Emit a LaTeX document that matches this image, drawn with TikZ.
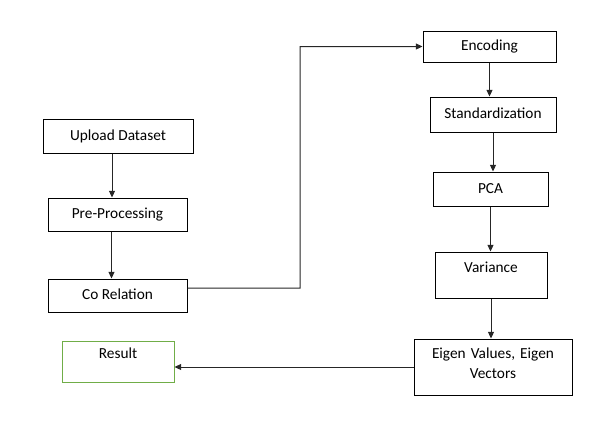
\documentclass[tikz,border=0pt]{standalone}
\usepackage{fontspec}
\setmainfont{Carlito}
\usepackage{xcolor}
\usetikzlibrary{arrows.meta,positioning,calc}

\definecolor{resgreen}{HTML}{70AD47}

\begin{document}
\begin{tikzpicture}[>={Triangle[length=5pt,width=4.5pt]}, x=0.75pt, y=-0.75pt,
    box/.style={draw=black, line width=0.75pt, inner sep=0pt, align=center,
        font=\fontsize{11.5pt}{15pt}\selectfont, text height=8pt, text depth=2pt},
    flow/.style={->, line width=0.75pt, draw=black!85}]
    \useasboundingbox (0,0) rectangle (603,440);

    % Left column
    \node[box, minimum width=112.5pt, minimum height=25.5pt] (upload) at (118,136) {Upload Dataset};
    \node[box, minimum width=104.25pt, minimum height=24.75pt] (prep) at (117.5,214.5) {Pre-Processing};
    \node[box, minimum width=104.25pt, minimum height=24.75pt] (corel) at (117.5,295.5) {Co Relation};

    % Right column
    \node[box, minimum width=99.75pt, minimum height=23.25pt] (enc) at (489.5,46.5) {Encoding};
    \node[box, minimum width=94.5pt, minimum height=26.25pt] (std) at (493,114.5) {Standardization};
    \node[box, minimum width=86.25pt, minimum height=25.5pt] (pca) at (490.5,189) {PCA};
    \node[box, minimum width=84pt, minimum height=34.5pt, text depth=12.5pt] (var) at (491,275) {Variance};
    \node[box, minimum width=118.5pt, minimum height=42pt, text width=112pt, text depth=21.5pt] (eig) at (493,367) {Eigen Values, Eigen\\Vectors};

    % Output
    \node[box, draw=resgreen, minimum width=84pt, minimum height=30.75pt, text depth=12.5pt] (res) at (118,361.5) {Result};

    % Connectors
    \draw[flow] ([xshift=-4.5pt]upload.south) -- ([xshift=-4.5pt]upload.south |- prep.north);
    \draw[flow] ([xshift=-4.5pt]prep.south) -- ([xshift=-4.5pt]prep.south |- corel.north);
    \coordinate (bend) at (300,288);
    \draw[flow] ([yshift=5.6pt]corel.east) -- (bend) |- (enc.west);
    \draw[flow] (enc.south) -- (enc.south |- std.north);
    \draw[flow] (std.south) -- (std.south |- pca.north);
    \draw[flow] (pca.south) -- (pca.south |- var.north);
    \draw[flow] (var.south) -- (var.south |- eig.north);
    \draw[flow] (eig.west) -- (eig.west -| res.east);
\end{tikzpicture}
\end{document}
